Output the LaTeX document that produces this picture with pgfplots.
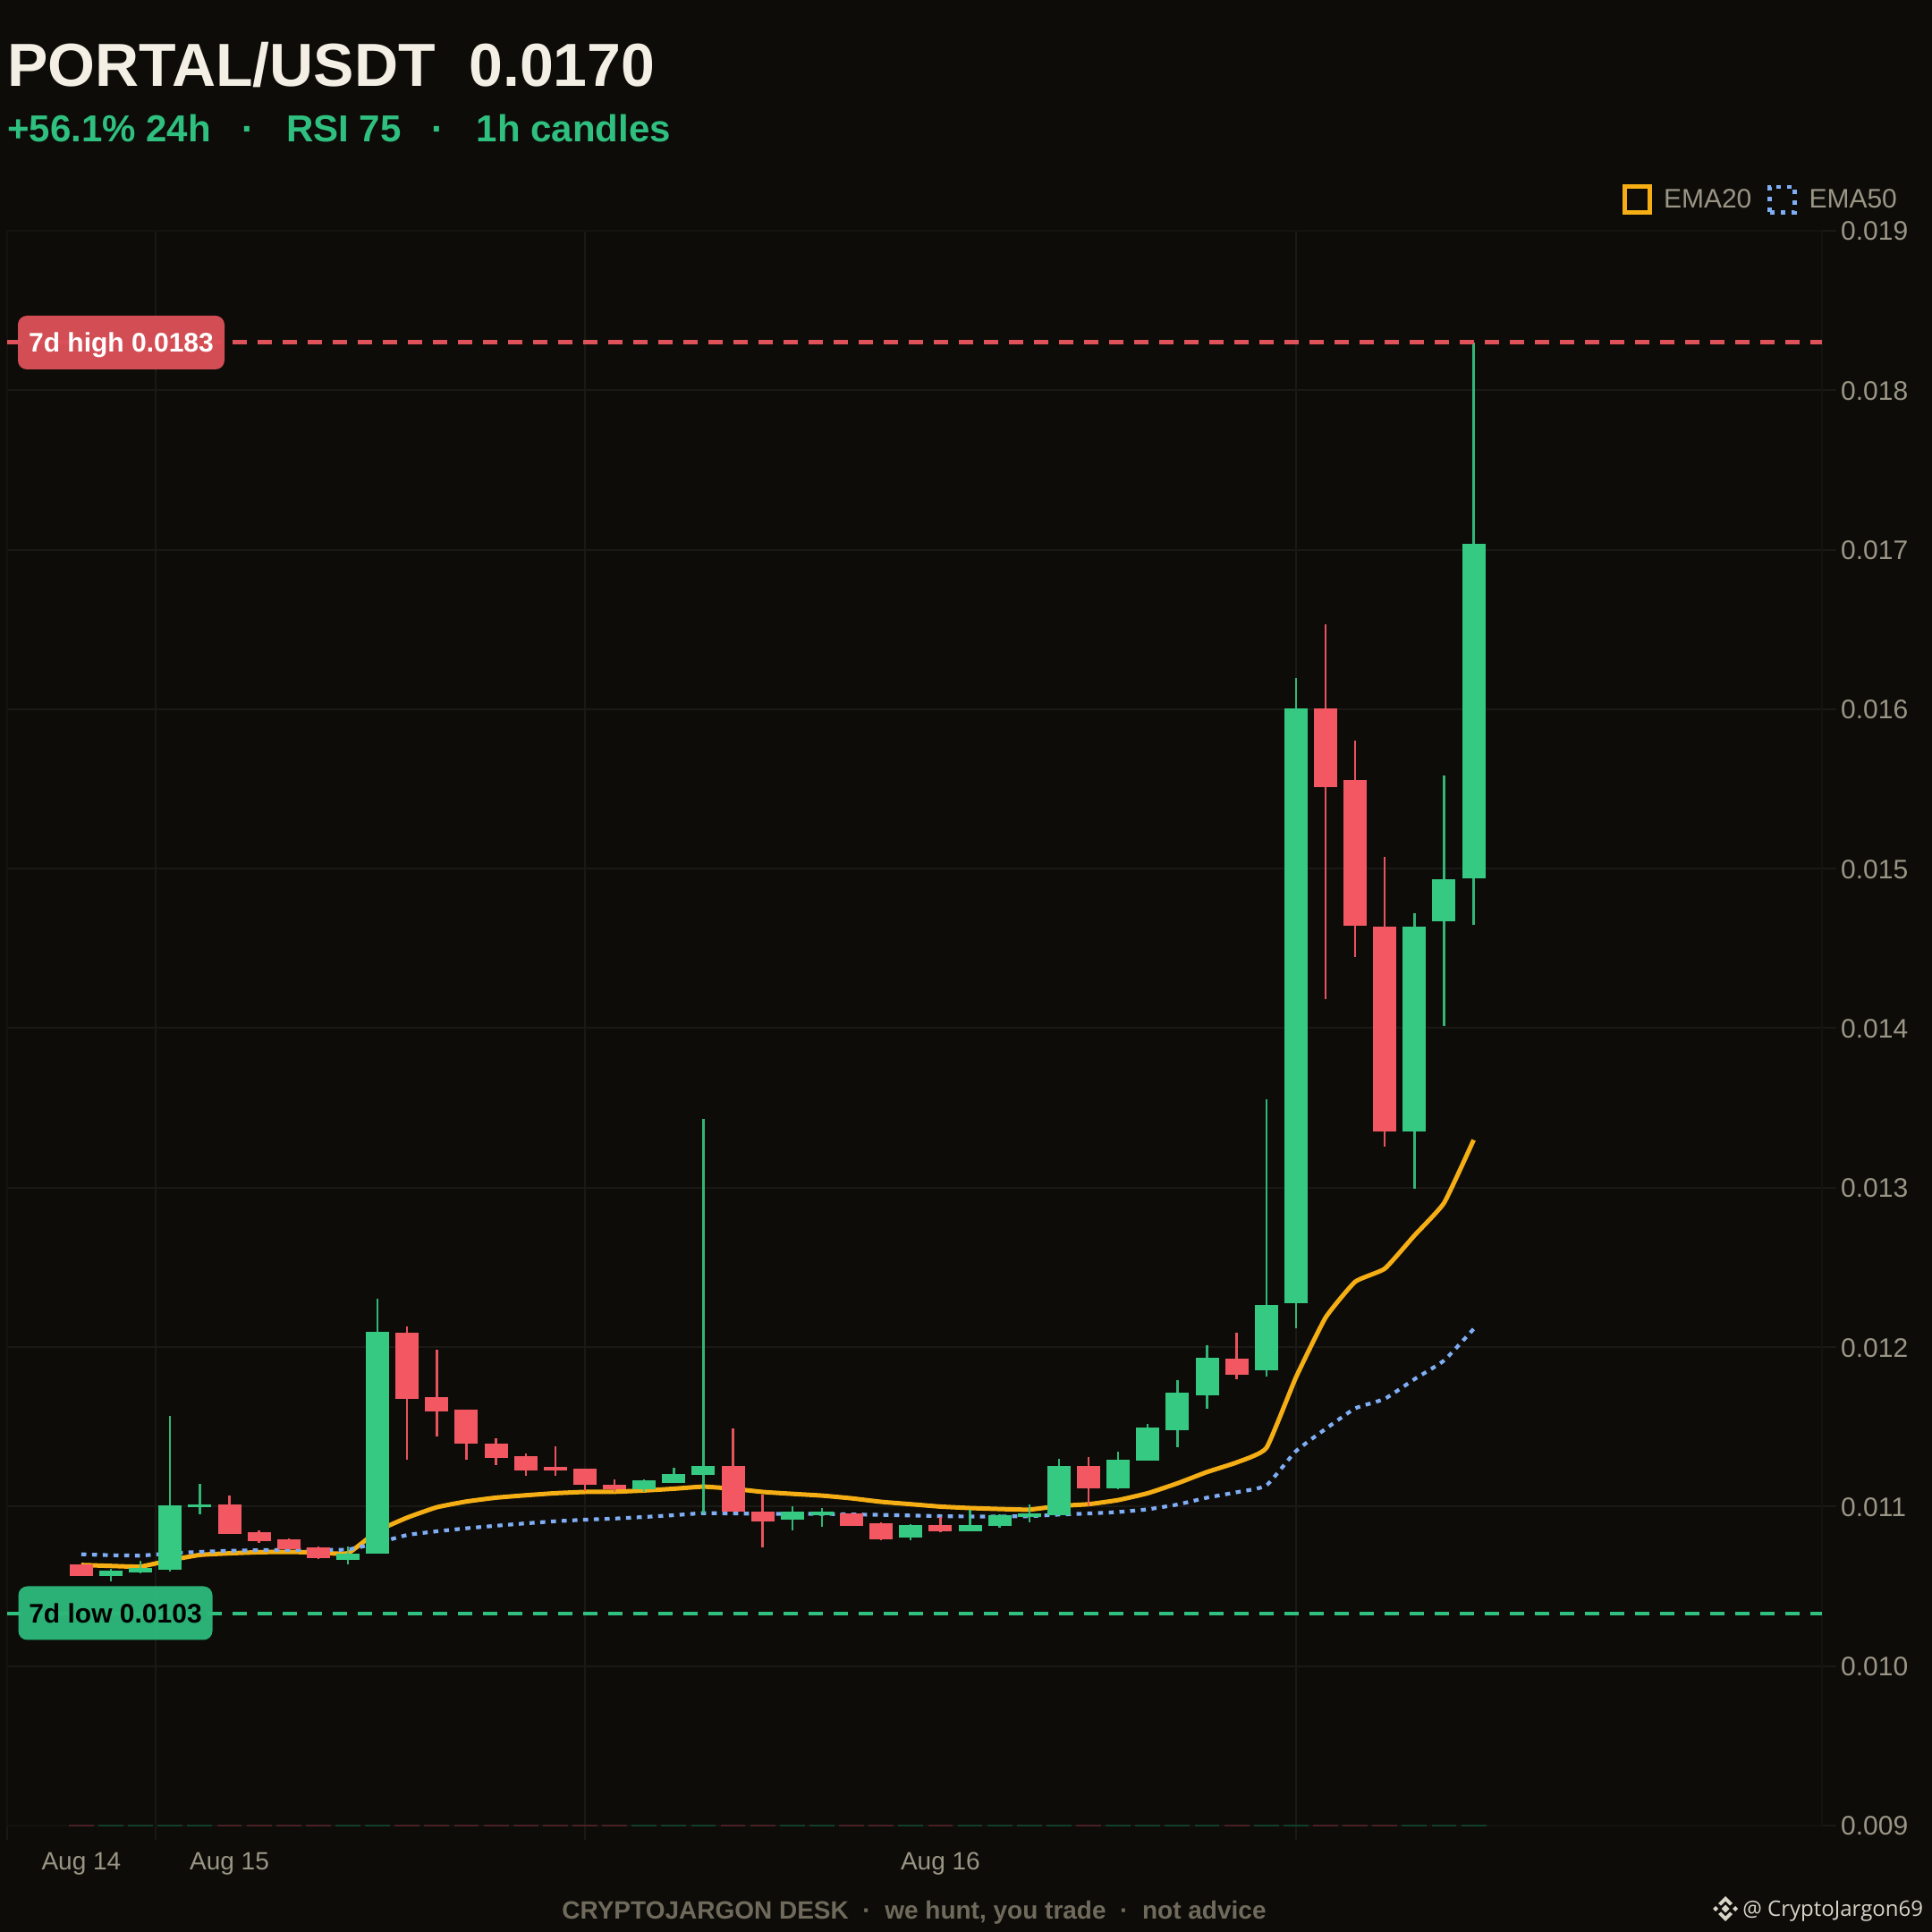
\documentclass[border=0pt]{standalone}
\usepackage{fontspec}
\setmainfont{Liberation Sans}
\newfontfamily\wmfont{Open Sans}
\usepackage{pgfplots}
\usepackage{pgfplotstable}
\pgfplotsset{compat=1.18}
\definecolor{bg}{HTML}{0D0C09}
\definecolor{gridc}{HTML}{1A1915}
\definecolor{spine}{HTML}{14130F}
\definecolor{up}{HTML}{35C982}
\definecolor{down}{HTML}{F35862}
\definecolor{upvol}{HTML}{123F2D}
\definecolor{downvol}{HTML}{4A2024}
\definecolor{ema20}{HTML}{F5AE14}
\definecolor{ema50}{HTML}{7FAEF5}
\definecolor{ticktxt}{HTML}{9A9585}
\definecolor{titletxt}{HTML}{F4EFE4}
\definecolor{subtxt}{HTML}{2FC07F}
\definecolor{foot}{HTML}{6F6A5B}
\definecolor{wm}{HTML}{D8D4C8}
\definecolor{hiline}{HTML}{E0525A}
\definecolor{loline}{HTML}{30C07F}
\definecolor{hibox}{HTML}{DB5058}
\definecolor{lobox}{HTML}{2DB87A}
\pgfplotstableread{
i top bot high low
1 0.010596 0.010566 0.010609 0.010533
2 0.010615 0.010585 0.010660 0.010580
3 0.011006 0.010606 0.011570 0.010591
4 0.011015 0.010994 0.011140 0.010951
9 0.010705 0.010665 0.010750 0.010639
10 0.012095 0.010705 0.012301 0.010705
19 0.011166 0.011107 0.011170 0.011093
20 0.011206 0.011146 0.011241 0.011146
21 0.011256 0.011196 0.013430 0.010959
24 0.010966 0.010916 0.011000 0.010852
25 0.010966 0.010948 0.010991 0.010871
28 0.010886 0.010806 0.010890 0.010790
30 0.010886 0.010847 0.010980 0.010847
31 0.010946 0.010877 0.010950 0.010869
32 0.010955 0.010936 0.011011 0.010901
33 0.011256 0.010946 0.011301 0.010946
35 0.011295 0.011116 0.011342 0.011108
36 0.011495 0.011286 0.011521 0.011286
37 0.011716 0.011477 0.011791 0.011372
38 0.011936 0.011697 0.012011 0.011611
40 0.012266 0.011856 0.013552 0.011813
41 0.016004 0.012275 0.016197 0.012121
45 0.014634 0.013350 0.014723 0.012996
46 0.014935 0.014670 0.015585 0.014015
47 0.017035 0.014941 0.018300 0.014645
}\greentable
\pgfplotstableread{
i top bot high low
0 0.010636 0.010566 0.010640 0.010566
5 0.011015 0.010826 0.011071 0.010826
6 0.010837 0.010785 0.010850 0.010772
7 0.010796 0.010735 0.010800 0.010735
8 0.010746 0.010677 0.010750 0.010670
11 0.012092 0.011677 0.012129 0.011292
12 0.011688 0.011594 0.011981 0.011441
13 0.011610 0.011396 0.011610 0.011292
14 0.011396 0.011307 0.011430 0.011262
15 0.011316 0.011226 0.011331 0.011193
16 0.011247 0.011226 0.011380 0.011193
17 0.011236 0.011136 0.011240 0.011100
18 0.011136 0.011107 0.011170 0.011093
22 0.011256 0.010966 0.011490 0.010966
23 0.010966 0.010907 0.011077 0.010742
26 0.010957 0.010877 0.010957 0.010877
27 0.010895 0.010794 0.010900 0.010790
29 0.010886 0.010847 0.010936 0.010841
34 0.011256 0.011116 0.011310 0.011000
39 0.011925 0.011826 0.012090 0.011800
42 0.016004 0.015514 0.016533 0.014180
43 0.015557 0.014641 0.015803 0.014448
44 0.014634 0.013350 0.015074 0.013257
}\redtable
\pgfplotstableread{
i e20 e50
0 0.010634 0.010701
1 0.010628 0.010695
2 0.010624 0.010693
3 0.010664 0.010707
4 0.010697 0.010716
5 0.010707 0.010723
6 0.010714 0.010727
7 0.010716 0.010729
8 0.010712 0.010729
9 0.010708 0.010731
10 0.010847 0.010772
11 0.010931 0.010822
12 0.010996 0.010845
13 0.011032 0.010864
14 0.011056 0.010880
15 0.011071 0.010895
16 0.011084 0.010908
17 0.011092 0.010918
18 0.011093 0.010925
19 0.011101 0.010935
20 0.011112 0.010946
21 0.011125 0.010959
22 0.011112 0.010957
23 0.011092 0.010955
24 0.011080 0.010955
25 0.011069 0.010955
26 0.011052 0.010951
27 0.011030 0.010948
28 0.011015 0.010944
29 0.011000 0.010940
30 0.010991 0.010938
31 0.010985 0.010938
32 0.010981 0.010940
33 0.011004 0.010950
34 0.011015 0.010957
35 0.011041 0.010966
36 0.011084 0.010983
37 0.011146 0.011013
38 0.011217 0.011056
39 0.011277 0.011090
40 0.011367 0.011132
41 0.011810 0.011348
42 0.012185 0.011487
43 0.012410 0.011616
44 0.012492 0.011676
45 0.012700 0.011799
46 0.012904 0.011916
47 0.013299 0.012114
}\ematable
\begin{document}
\begin{tikzpicture}
\useasboundingbox (0,0) rectangle (1080pt,1080pt);
\fill[bg] (0,0) rectangle (1080pt,1080pt);
\begin{axis}[
  at={(4pt,59.5pt)}, anchor=south west,
  scale only axis, width=1014.5pt, height=891.5pt,
  xmin=-2.503, xmax=58.76, ymin=0.009, ymax=0.019,
  clip=false,
  axis line style={draw=spine,line width=1pt},
  grid=major, grid style={draw=gridc,line width=1pt},
  tick style={draw=gridc,line width=1pt},
  major tick length=8pt,
  tick align=outside,
  xtick pos=bottom, ytick pos=right,
  yticklabel pos=right,
  xtick={-2.503,2.5,17,41}, xticklabels={},
  extra x ticks={0,5,29}, extra x tick labels={Aug 14,Aug 15,Aug 16},
  extra x tick style={major tick length=0pt, grid=none,
    xticklabel style={yshift=-11.5pt}},
  ytick={0.009,0.010,0.011,0.012,0.013,0.014,0.015,0.016,0.017,0.018,0.019},
  scaled y ticks=false,
  yticklabel shift=-1pt,
  xticklabel style={text=ticktxt,font=\fontsize{14}{17}\selectfont},
  yticklabel style={text=ticktxt,font=\fontsize{15}{17}\selectfont,yshift=-0.3pt,
    /pgf/number format/.cd,fixed,fixed zerofill,precision=3,assume math mode=true},
  legend columns=2,
  legend cell align=left,
  legend image code/.code={\path[draw=none,fill=none] (0pt,0pt) -- (22pt,0pt); \draw[#1] (0pt,-7.2pt) rectangle (14pt,7.2pt);},
  legend style={draw=none,fill=none,text=ticktxt,inner sep=0pt,
    font=\fontsize{15}{17}\selectfont,
    at={(1.0415,1.0196)},anchor=east,
    nodes={inner sep=0pt},
    /tikz/every even column/.append style={column sep=9pt}},
]
% bottom strip
\addplot[forget plot,draw=none,mark=none,error bars/.cd,x dir=both,x fixed=0.42,error mark=none,error bar style={draw=upvol,line width=1pt}]
  table[x=i,y expr=0.009] {\greentable};
\addplot[forget plot,draw=none,mark=none,error bars/.cd,x dir=both,x fixed=0.42,error mark=none,error bar style={draw=downvol,line width=1pt}]
  table[x=i,y expr=0.009] {\redtable};
% EMA lines
\addplot[ema20,line width=2.5pt,smooth,tension=0.25,line cap=butt] table[x=i,y=e20] {\ematable};
\addlegendentry{\raisebox{-0.6pt}{EMA20}}
\addplot[ema50,line width=2.1pt,dash pattern=on 2.8pt off 3.2pt,smooth,tension=0.25] table[x=i,y=e50] {\ematable};
\addlegendentry{\raisebox{-0.6pt}{EMA50}}
% candles: wicks then bodies
\addplot[forget plot,draw=none,mark=none,error bars/.cd,y dir=plus,y explicit,error mark=none,error bar style={draw=up,line width=1.2pt,opacity=0.9}]
  table[x=i,y=low,y error plus expr=\thisrow{high}-\thisrow{low}] {\greentable};
\addplot[forget plot,draw=none,mark=none,error bars/.cd,y dir=plus,y explicit,error mark=none,error bar style={draw=down,line width=1.2pt,opacity=0.95}]
  table[x=i,y=low,y error plus expr=\thisrow{high}-\thisrow{low}] {\redtable};
\addplot[forget plot,draw=none,mark=none,error bars/.cd,y dir=plus,y explicit,error mark=none,error bar style={draw=up,line width=13pt}]
  table[x=i,y=bot,y error plus expr=\thisrow{top}-\thisrow{bot}] {\greentable};
\addplot[forget plot,draw=none,mark=none,error bars/.cd,y dir=plus,y explicit,error mark=none,error bar style={draw=down,line width=13pt}]
  table[x=i,y=bot,y error plus expr=\thisrow{top}-\thisrow{bot}] {\redtable};
% high / low lines
\addplot[forget plot,hiline,line width=2.3pt,dash pattern=on 8pt off 6pt] coordinates {(-2.503,0.0183) (58.76,0.0183)};
\addplot[forget plot,loline,line width=2.3pt,dash pattern=on 8pt off 6pt] coordinates {(-2.503,0.01033) (58.76,0.01033)};
\end{axis}
\begin{scope}[shift={(0,1080pt)},x=0.5pt,y=-0.5pt]
% title block
\node[anchor=base west,inner sep=0pt,text=titletxt,font=\fontsize{34}{40}\selectfont\bfseries] at (8,97) {PORTAL/USDT};
\node[anchor=base west,inner sep=0pt,text=titletxt,font=\fontsize{34}{40}\selectfont\bfseries] at (524,97) {0.0170};
\node[anchor=base west,inner sep=0pt,text=subtxt,font=\fontsize{21}{26}\selectfont\bfseries] at (8,158.5) {+56.1\% 24h};
\node[anchor=base,inner sep=0pt,text=subtxt,font=\fontsize{21}{26}\selectfont\bfseries] at (277.5,158.5) {·};
\node[anchor=base west,inner sep=0pt,text=subtxt,font=\fontsize{21}{26}\selectfont\bfseries] at (319.7,158.5) {RSI 75};
\node[anchor=base,inner sep=0pt,text=subtxt,font=\fontsize{21}{26}\selectfont\bfseries] at (489.5,158.5) {·};
\node[anchor=base west,inner sep=0pt,text=subtxt,font=\fontsize{21}{26}\selectfont\bfseries] at (532.4,158.5) {1h candles};
% level labels
\fill[hibox,opacity=0.96,rounded corners=5pt] (20,353) rectangle (251,413);
\node[anchor=base,inner sep=0pt,text=white,font=\fontsize{15}{18}\selectfont\bfseries] at (135.5,393.5) {7d high 0.0183};
\fill[lobox,opacity=0.96,rounded corners=5pt] (20.5,1773.5) rectangle (237.5,1833.5);
\node[anchor=base,inner sep=0pt,text=black!90!bg,font=\fontsize{15}{18}\selectfont\bfseries] at (129,1814.5) {7d low 0.0103};
% footer
\node[anchor=base,inner sep=0pt,text=foot,font=\fontsize{14}{17}\selectfont\bfseries] at (1022,2145) {CRYPTOJARGON DESK\ \ ·\ \ we hunt, you trade\ \ ·\ \ not advice};
% watermark
\begin{scope}[shift={(1929,2134)}]
\fill[wm] (0,-4.5) -- (4.5,0) -- (0,4.5) -- (-4.5,0) -- cycle;
\fill[wm] (-14,0) -- (-11,-3) -- (-8,0) -- (-11,3) -- cycle;
\fill[wm] (14,0) -- (11,-3) -- (8,0) -- (11,3) -- cycle;
\fill[wm] (0,-14) -- (8,-6) -- (5,-3.5) -- (0,-8.5) -- (-5,-3.5) -- (-8,-6) -- cycle;
\fill[wm] (0,14) -- (8,6) -- (5,3.5) -- (0,8.5) -- (-5,3.5) -- (-8,6) -- cycle;
\end{scope}
\node[anchor=base west,inner sep=0pt,text=wm,font=\wmfont\fontsize{12}{14}\selectfont] at (1948,2142) {@ CryptoJargon69};
\end{scope}
\end{tikzpicture}
\end{document}
